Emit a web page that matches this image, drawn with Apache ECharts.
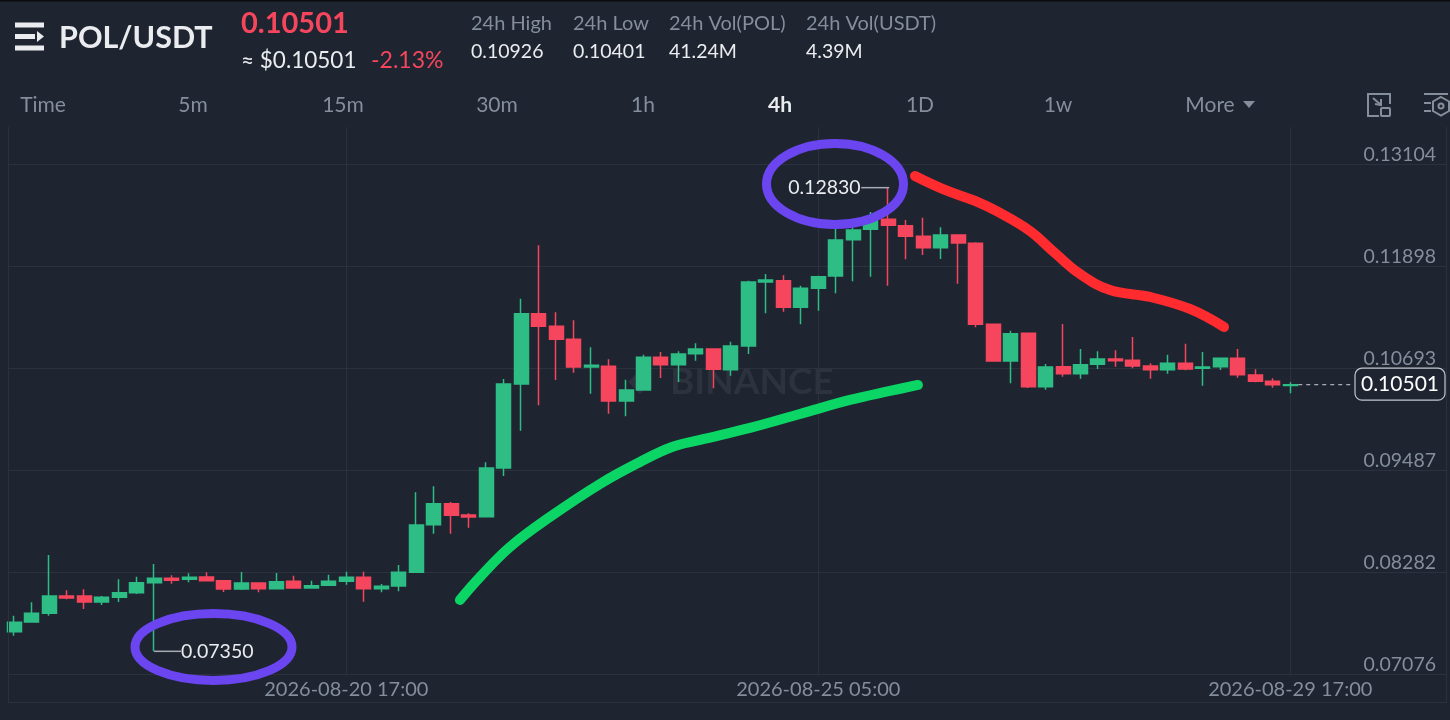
<!DOCTYPE html>
<html><head><meta charset="utf-8">
<style>html,body{margin:0;padding:0;background:#1e2530}#c{width:1450px;height:720px}</style>
<script src="https://cdn.jsdelivr.net/npm/echarts@6/dist/echarts.min.js"></script>
</head><body><div id="c"></div>
<script>
const opens=[.07582,.07697,.07799,.08004,.08004,.07933,.07989,.08043,.08161,.08213,.08201,.08228,.08185,.08087,.08158,.08090,.08178,.08098,.08130,.08178,.08225,.08090,.08122,.08284,.08847,.09095,.08961,.08941,.09517,.10510,.11341,.11192,.11038,.10711,.10719,.10309,.10439,.10825,.10738,.10868,.10923,.10679,.10959,.11715,.11731,.11416,.11641,.11786,.12215,.12338,.12456,.12381,.12256,.12121,.12271,.12173,.11215,.10782,.11109,.10478,.10714,.10631,.10743,.10805,.10790,.10722,.10679,.10754,.10695,.10714,.10814,.10616,.10542,.10493];
const closes=[.07693,.07799,.08004,.07980,.07933,.07989,.08043,.08161,.08213,.08189,.08225,.08185,.08087,.08158,.08090,.08173,.08098,.08126,.08178,.08225,.08090,.08119,.08284,.08843,.09095,.08958,.08938,.09517,.10510,.11341,.11192,.11038,.10711,.10731,.10309,.10439,.10825,.10738,.10864,.10923,.10683,.10959,.11715,.11739,.11416,.11641,.11778,.12212,.12330,.12448,.12386,.12256,.12121,.12271,.12176,.11215,.10782,.11104,.10478,.10711,.10631,.10738,.10805,.10785,.10722,.10679,.10754,.10687,.10711,.10814,.10620,.10542,.10501,.10501];
const lows=[.07535,.07697,.07771,.07965,.07850,.07897,.07933,.08028,.07350,.08149,.08166,.08185,.08051,.08075,.08048,.08090,.08090,.08090,.08122,.08137,.07936,.08048,.08059,.08284,.08740,.08740,.08811,.08941,.09422,.09958,.10258,.10557,.10643,.10395,.10159,.10128,.10431,.10581,.10533,.10785,.10459,.10608,.10864,.11345,.11364,.11215,.11376,.11582,.11724,.11778,.11672,.11984,.12034,.11987,.11695,.11180,.10773,.10518,.10462,.10442,.10596,.10572,.10687,.10714,.10695,.10572,.10631,.10672,.10490,.10675,.10584,.10530,.10466,.10400];
const highs=[.07771,.07929,.08489,.08071,.08083,.08004,.08201,.08232,.08382,.08249,.08272,.08284,.08185,.08288,.08158,.08276,.08244,.08185,.08256,.08291,.08291,.08146,.08370,.09230,.09301,.09115,.08981,.09584,.10569,.11518,.12149,.11357,.11263,.10944,.10802,.10561,.10856,.10888,.10896,.10991,.10923,.11010,.11731,.11810,.11795,.11672,.11790,.12369,.12389,.12543,.12830,.12448,.12475,.12362,.12271,.12185,.11222,.11140,.11116,.10746,.11219,.10923,.10896,.10908,.11065,.10754,.10856,.10986,.10888,.10814,.10923,.10683,.10577,.10530];
const yTicks=[.07076,.08282,.09487,.10693,.11898,.13104];
const xTickIndexes=[19,46,73];
const xTickLabels=['2026-08-20 17:00','2026-08-25 05:00','2026-08-29 17:00'];
const greenStroke=[[25.5,.07957],[26.65,.08228],[28.36,.08583],[30.65,.08938],[33.51,.09328],[35.8,.09588],[37.63,.09765],[39.23,.09848],[42.09,.0999],[44.95,.10155],[47.81,.10321],[50.1,.10427],[51.7,.10498]];
const redStroke=[[51.53,.12968],[53.25,.12803],[54.97,.12673],[56.4,.12531],[58.11,.12318],[59.54,.12058],[60.97,.1181],[62.69,.11621],[64.98,.11538],[67.26,.11396],[69.21,.11183]];
const tabs=['Time','5m','15m','30m','1h','4h','1D','1w','More'];
const statNames=['24h High','24h Low','24h Vol(POL)','24h Vol(USDT)'];
const statValues=['0.10926','0.10401','41.24M','4.39M'];
const lastPrice=0.10501, highPrice=0.12830, lowPrice=0.07350;

const UP='#2EBD85',DOWN='#F6465D',BG='#1e2530',GRID='#2b313d',GRAY='#848E9C',WHITE='#EAECEF',FONT='Lato, "Noto Sans", sans-serif';
const chart=echarts.init(document.getElementById('c'));
const option={
 backgroundColor:BG,animation:false,
 grid:{left:8,right:4,top:127,bottom:45.5,containLabel:false},
 xAxis:{type:'value',min:-0.355,max:81.91,
  axisLine:{show:true,lineStyle:{color:GRID,width:1}},axisTick:{show:false,customValues:xTickIndexes},
  splitLine:{show:true,lineStyle:{color:GRID,width:1}},
  axisLabel:{customValues:xTickIndexes,color:GRAY,fontFamily:FONT,fontSize:20,margin:5,
   formatter:v=>xTickLabels[xTickIndexes.indexOf(v)]||''}},
 yAxis:{type:'value',position:'right',min:.07076,max:.13547,scale:true,
  axisLine:{show:false},axisTick:{show:false,customValues:yTicks},
  splitLine:{show:true,lineStyle:{color:GRID,width:1}},
  axisLabel:{inside:true,customValues:yTicks,color:GRAY,fontFamily:FONT,fontSize:19.5,margin:10,verticalAlign:'bottom',lineHeight:20,padding:[0,0,0,0],
   formatter:v=>v.toFixed(5)}},
 series:[
  {type:'candlestick',barWidth:14.5,z:3,clip:true,
   itemStyle:{color:UP,color0:DOWN,borderColor:UP,borderColor0:DOWN,borderWidth:1.5},
   data:opens.map((o,i)=>[i,o,closes[i],lows[i],highs[i]]),
   encode:{x:0,y:[1,2,3,4]}},
  {type:'line',z:6,data:greenStroke,smooth:0.4,symbol:'none',lineStyle:{color:'#0BD565',width:10,cap:'round'}},
  {type:'line',z:6,data:redStroke,smooth:0.4,symbol:'none',lineStyle:{color:'#FF2B2F',width:10,cap:'round'}}
 ]};
chart.setOption(option);

const T=(text,x,y,size,fill,extra)=>({type:'text',z:100,style:Object.assign({text,x,y,fontSize:size,fill,fontFamily:FONT,textAlign:'left',textVerticalAlign:'middle'},extra||{})});
const R=(x,y,w,h,fill)=>({type:'rect',z:100,shape:{x,y,width:w,height:h},style:{fill}});
const L=(x1,y1,x2,y2,stroke,w,dash)=>({type:'line',z:100,shape:{x1,y1,x2,y2},style:{stroke,lineWidth:w||1,lineDash:dash||null}});
const E=(cx,cy,rx,ry)=>({type:'ellipse',z:101,shape:{cx,cy,rx,ry},style:{fill:'none',stroke:'#6A45F0',lineWidth:9}});
const px=(i,v)=>chart.convertToPixel({xAxisIndex:0,yAxisIndex:0},[i,v]);

const tabX=[43,193,343,497,643,780,920,1058,1210];
const statX=[471,573,669,806];
const hi=px(highs.indexOf(highPrice),highPrice), lo=px(lows.indexOf(lowPrice),lowPrice), last=px(opens.length-1,lastPrice);
const g=[
 R(0,0,1450,1.5,'#0a0c10'),
 L(8.5,127,8.5,702.5,GRID),L(1446.5,127,1446.5,702.5,GRID),L(8,702.5,1447,702.5,GRID),
 {type:'text',z:1,style:{text:'BINANCE',x:670,y:382,fontSize:37,fontWeight:'bold',fill:'#2d333e',fontFamily:FONT,textAlign:'left',textVerticalAlign:'middle'}},
 {type:'polygon',z:1,shape:{points:[[640,370],[652,382],[640,394],[628,382]]},style:{fill:'#2d333e'}},
 R(15,22.5,29,5,WHITE),R(15,34,20,5,WHITE),R(15,45.5,29,5,WHITE),
 {type:'polygon',z:100,shape:{points:[[37,31],[44,36.5],[37,42]]},style:{fill:WHITE}},
 T('POL/USDT',59,38,30.5,WHITE,{fontWeight:'bold'}),
 T('0.10501',241,24,29,DOWN,{fontWeight:'bold'}),
 T('≈ $0.10501',241,61,22.5,WHITE),
 T('-2.13%',371,61,23,DOWN),
 ...statNames.map((s,i)=>T(s,statX[i],24,20,GRAY)),
 ...statValues.map((s,i)=>T(s,statX[i],52,19.5,WHITE)),
 ...tabs.map((s,i)=>T(s,tabX[i],105,21,s==='4h'?WHITE:GRAY,{textAlign:'center',fontWeight:s==='4h'?'bold':'normal'})),
 {type:'polygon',z:100,shape:{points:[[1243,101],[1255,101],[1249,108]]},style:{fill:GRAY}},
 {type:'polyline',z:100,shape:{points:[[1379,116],[1368,116],[1368,94],[1390,94],[1390,104]]},style:{fill:'none',stroke:GRAY,lineWidth:2}},
 {type:'rect',z:100,shape:{x:1381,y:108,width:9,height:8,r:1},style:{fill:'none',stroke:GRAY,lineWidth:2}},
 {type:'polyline',z:100,shape:{points:[[1373,98],[1381,105]]},style:{fill:'none',stroke:GRAY,lineWidth:2}},
 {type:'polyline',z:100,shape:{points:[[1375,104],[1381,105],[1381,99]]},style:{fill:'none',stroke:GRAY,lineWidth:2}},
 L(1424,94,1448,94,GRAY,2),L(1424,103,1431,103,GRAY,2),L(1424,111,1431,111,GRAY,2),
 {type:'polygon',z:100,shape:{points:[[1441,97],[1449,101.5],[1449,111],[1441,115.5],[1433,111],[1433,101.5]]},style:{fill:'none',stroke:GRAY,lineWidth:2}},
 {type:'circle',z:100,shape:{cx:1441,cy:106,r:2.5},style:{fill:'none',stroke:GRAY,lineWidth:2}},
 L(hi[0]+1,hi[1],hi[0]-27,hi[1],'#a8adb5',1.5),
 T(highPrice.toFixed(5),hi[0]-100,hi[1],19.5,WHITE),
 L(lo[0],lo[1],lo[0]+27,lo[1],'#a8adb5',1.5),
 T(lowPrice.toFixed(5),lo[0]+27,lo[1],19.5,WHITE),
 L(last[0]+8,last[1],1353,last[1],'#a8adb5',1.2,[4,4]),
 {type:'rect',z:100,shape:{x:1355,y:last[1]-16.5,width:90,height:32,r:7},style:{fill:BG,stroke:'#c4c8ce',lineWidth:1.2}},
 T(lastPrice.toFixed(5),1400,last[1]-0.5,21,'#FFFFFF',{textAlign:'center'}),
 E(835,184,68.5,40.5),E(213.5,647,78.5,33.5)
];
chart.setOption({graphic:{elements:g}});
</script></body></html>
